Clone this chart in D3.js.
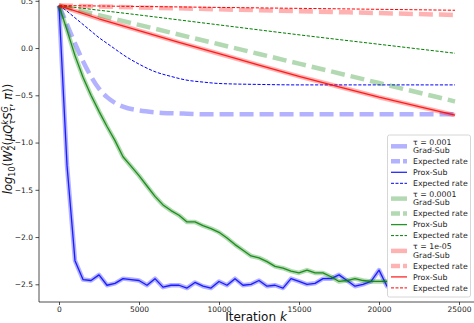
<!DOCTYPE html>
<html><head><meta charset="utf-8">
<script src="https://cdn.jsdelivr.net/npm/d3@7"></script>
<style>
body{margin:0;background:#fff}
svg{display:block;font-family:"DejaVu Sans",sans-serif}
</style>
</head><body>
<svg id="chart" width="474" height="323"></svg>
<script>
// Iteration grid of the sampled runs (every 500 iterations)
const iters = d3.range(0, 25001, 500);

// log10 W2^2 of the sub-sampled chains, one per step size
const tau001Run = [0.45, -1.24, -2.25, -2.45, -2.46, -2.40, -2.51, -2.49, -2.44, -2.45,
  -2.46, -2.51, -2.44, -2.53, -2.51, -2.51, -2.54, -2.48, -2.52, -2.54,
  -2.47, -2.51, -2.44, -2.51, -2.50, -2.46, -2.52, -2.51, -2.54, -2.44,
  -2.47, -2.50, -2.49, -2.44, -2.44, -2.40, -2.46, -2.52, -2.50, -2.47,
  -2.35, -2.52, -2.48, -2.45, -2.50, -2.47, -2.52, -2.46, -2.49, -2.45, -2.50];
const tau0001Run = [0.45, 0.19, -0.08, -0.31, -0.50, -0.67, -0.83, -0.98, -1.15, -1.25,
  -1.35, -1.46, -1.57, -1.66, -1.72, -1.77, -1.84, -1.84, -1.88, -1.91,
  -1.95, -2.01, -2.08, -2.14, -2.20, -2.22, -2.26, -2.31, -2.33, -2.36,
  -2.38, -2.35, -2.38, -2.38, -2.42, -2.47, -2.46, -2.44, -2.46, -2.47,
  -2.47, -2.47, -2.48, -2.47, -2.48, -2.47, -2.48, -2.48, -2.47, -2.48, -2.48];

// Slow step size: coarser grid
const itersCoarse = [0, 2500, 5000, 7500, 10000, 12500, 15000, 17500, 20000, 22500, 24750];
const tau1e5Run = [0.45, 0.31, 0.185, 0.06, -0.06, -0.18, -0.30, -0.41, -0.52, -0.62, -0.71];

// Expected rates
const itersRate = [0, 500, 1000, 1500, 2000, 2500, 3000, 3500, 4000, 5000, 6000, 7000, 8000, 9000, 10000, 12500, 15000, 20000, 24750];
const tau001GradRate = [0.45, 0.25, 0.05, -0.14, -0.30, -0.43, -0.52, -0.58, -0.62, -0.66, -0.68, -0.69, -0.695, -0.70, -0.70, -0.70, -0.70, -0.70, -0.70];
const tau001ProxRate = [0.45, 0.39, 0.32, 0.25, 0.18, 0.11, 0.05, -0.01, -0.07, -0.17, -0.25, -0.30, -0.34, -0.36, -0.375, -0.385, -0.39, -0.39, -0.39];

const itersLinear = [0, 5000, 10000, 15000, 20000, 24750];
const tau0001GradRate = [0.45, 0.245, 0.04, -0.165, -0.37, -0.565];
const tau0001ProxRate = [0.45, 0.35, 0.245, 0.14, 0.04, -0.055];
const tau1e5GradRate = [0.45, 0.43, 0.41, 0.39, 0.37, 0.35];
const tau1e5ProxRate = [0.45, 0.44, 0.43, 0.42, 0.41, 0.40];

const xTicks = [0, 5000, 10000, 15000, 20000, 25000];
const yTicks = [-2.5, -2.0, -1.5, -1.0, -0.5, 0.0, 0.5];

const tauLabels = ["\u03c4 = 0.001", "\u03c4 = 0.0001", "\u03c4 = 1e-05"];
const tauColors = ["#0000ff", "#008000", "#ff0000"];

const svg = d3.select("#chart");
const x = d3.scaleLinear().domain([0, 25000]).range([59, 459]);
const y = d3.scaleLinear().domain([-2.5, 0.5]).range([284.3, 0.8]);
const left = 39, bottom = 302;

const zip = (ks, vs) => ks.map((k, i) => [k, vs[i]]);
const groups = [
  {c: tauColors[0], run: zip(iters, tau001Run), grad: zip(itersRate, tau001GradRate), prox: zip(itersRate, tau001ProxRate)},
  {c: tauColors[1], run: zip(iters, tau0001Run), grad: zip(itersLinear, tau0001GradRate), prox: zip(itersLinear, tau0001ProxRate)},
  {c: tauColors[2], run: zip(itersCoarse, tau1e5Run), grad: zip(itersLinear, tau1e5GradRate), prox: zip(itersLinear, tau1e5ProxRate)}
];

const styles = {
  gradSub: {w: 4.5, op: 0.3, dash: null},
  gradRate: {w: 4.5, op: 0.3, dash: "14 6"},
  proxSub: {w: 1.3, op: 0.85, dash: null},
  proxRate: {w: 1, op: 1, dash: "3.2 1.6"}
};

const plot = svg.append("g");
const line = d3.line().x(d => x(d[0])).y(d => y(d[1]));
function draw(data, st, color, curve) {
  plot.append("path").datum(data)
    .attr("d", line.curve(curve || d3.curveLinear))
    .attr("fill", "none").attr("stroke", color)
    .attr("stroke-width", st.w).attr("stroke-opacity", st.op)
    .attr("stroke-dasharray", st.dash).attr("stroke-linejoin", "round");
}
groups.forEach(g => {
  draw(g.run, styles.gradSub, g.c);
  draw(g.grad, styles.gradRate, g.c, d3.curveMonotoneX);
  draw(g.run, styles.proxSub, g.c);
  draw(g.prox, styles.proxRate, g.c, d3.curveMonotoneX);
});

// Axes
const axCol = "#222";
const yAxis = svg.append("g").attr("transform", `translate(${left},0)`)
  .call(d3.axisLeft(y).tickValues(yTicks).tickSize(3.5).tickSizeOuter(0).tickPadding(2.5)
    .tickFormat(d => d3.format(".1f")(d).replace("-", "\u2212")));
const xAxis = svg.append("g").attr("transform", `translate(0,${bottom})`)
  .call(d3.axisBottom(x).tickValues(xTicks).tickSize(3).tickSizeOuter(0).tickPadding(1.5)
    .tickFormat(d3.format("d")));
[yAxis, xAxis].forEach(a => {
  a.select(".domain").remove();
  a.selectAll("line").attr("stroke", axCol).attr("stroke-width", 0.8);
  a.selectAll("text").attr("fill", axCol).style("font-size", "7.5px").style("font-family", "DejaVu Sans");
});
svg.append("line").attr("x1", left).attr("x2", left).attr("y1", -5).attr("y2", bottom)
  .attr("stroke", axCol).attr("stroke-width", 0.8);
svg.append("line").attr("x1", left).attr("x2", 480).attr("y1", bottom).attr("y2", bottom)
  .attr("stroke", axCol).attr("stroke-width", 0.8);

// X label
const xl = svg.append("text").attr("x", 256).attr("y", 321).attr("text-anchor", "middle")
  .attr("fill", "#111").style("font-size", "12px");
xl.append("tspan").text("Iteration ");
xl.append("tspan").attr("font-style", "italic").text("k");

// Y label (math style)
const yl = svg.append("text").attr("transform", "translate(12,139) rotate(-90)")
  .attr("text-anchor", "middle").attr("fill", "#111").style("font-size", "11.5px");
const fs = 11.5, small = 8;
const parts = [
  {t: "log", it: true},
  {t: "10", dy: 2.5, size: small},
  {t: "(", dy: -2.5},
  {t: "W", it: true},
  {t: "2", dy: -4.5, size: small},
  {t: "2", dy: 7, dx: -5.1, size: small},
  {t: "(", dy: -2.5},
  {t: "\u03bcQ", it: true},
  {t: "k", dy: -4.5, size: small, it: true},
  {t: "\u03c4", dy: 7, dx: -4.6, size: small, it: true},
  {t: "S", dy: -2.5, it: true},
  {t: "G", dy: -4.5, size: small, it: true},
  {t: "\u03c4", dy: 7, dx: -5.6, size: small, it: true},
  {t: ", ", dy: -2.5},
  {t: "\u03c0", it: true},
  {t: "))"}
];
parts.forEach(p => {
  const ts = yl.append("tspan").text(p.t);
  if (p.it) ts.attr("font-style", "italic");
  if (p.dy) ts.attr("dy", p.dy);
  if (p.dx) ts.attr("dx", p.dx);
  ts.style("font-size", (p.size || fs) + "px");
});

// Legend
const legendLabels = ["Grad-Sub", "Expected rate", "Prox-Sub", "Expected rate"];
const leg = svg.append("g");
leg.append("rect").attr("x", 387.5).attr("y", 135).attr("width", 83).attr("height", 162)
  .attr("rx", 2).attr("fill", "#fff").attr("stroke", "#cccccc").attr("stroke-width", 0.8);
const legFs = 7.8;
let yy = 142;
const styleOrder = [styles.gradSub, styles.gradRate, styles.proxSub, styles.proxRate];
tauColors.forEach((c, gi) => {
  legendLabels.forEach((lab, li) => {
    const st = styleOrder[li];
    let hy = yy;
    if (li === 0) {
      leg.append("text").attr("x", 413).attr("y", yy + 2.8).attr("fill", "#222")
        .style("font-size", legFs + "px").text(tauLabels[gi]);
      yy += 8.3;
      hy = yy - 4;
    }
    leg.append("line").attr("x1", 391).attr("x2", 407).attr("y1", hy).attr("y2", hy)
      .attr("stroke", c).attr("stroke-width", st.w).attr("stroke-opacity", st.op)
      .attr("stroke-dasharray", st.dash ? (li === 1 ? "9 3" : "3 1.5") : null);
    leg.append("text").attr("x", 413).attr("y", yy + 2.8).attr("fill", "#222")
      .style("font-size", legFs + "px").text(lab);
    yy += 11;
  });
});
</script>
</body></html>
